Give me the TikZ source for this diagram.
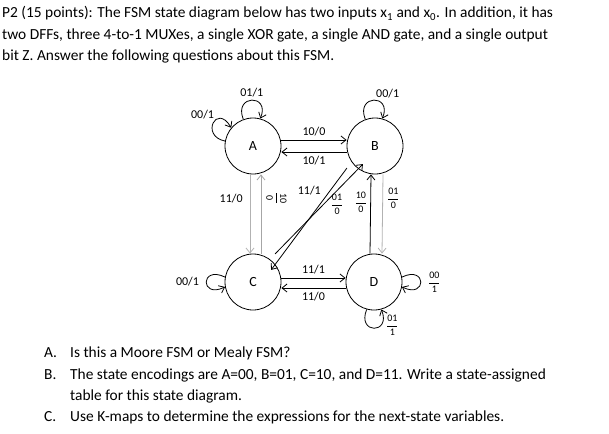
\documentclass[tikz,border=0pt]{standalone}
\usepackage{fontspec}
\setmainfont{Carlito}
\usetikzlibrary{arrows.meta}
\newcommand{\fq}[2]{$\displaystyle\frac{\mathrm{#1}}{\mathrm{#2}}$}
\begin{document}
\begin{tikzpicture}[x=1pt,y=-1pt,
  st/.style={circle,draw,thick,minimum size=56pt,inner sep=0pt,font=\fontsize{14}{14}\selectfont},
  tr/.style={draw,thick,-{Straight Barb[length=5pt,width=8pt]}},
  trg/.style={tr,draw=gray!60},
  lb/.style={font=\fontsize{12}{12}\selectfont,inner sep=1pt},
  fr/.style={font=\fontsize{10}{10}\selectfont,inner sep=1pt},
  txt/.style={anchor=base west,inner sep=0pt,font=\fontsize{15.4}{17}\selectfont}]
\useasboundingbox (0,0) rectangle (609,433);
\node[txt] (t1) at (2,18) {P2 (15 points): The FSM state diagram below has two inputs x\textsubscript{1} and x\textsubscript{0}. In addition, it has};
\node[txt] (t2) at (2,40) {two DFFs, three 4-to-1 MUXes, a single XOR gate, a single AND gate, and a single output};
\node[txt] (t3) at (2,61) {bit Z. Answer the following questions about this FSM.};
\node[txt] (la) at (44,357) {A.};
\node[txt] (ta) at (70,357) {Is this a Moore FSM or Mealy FSM?};
\node[txt] (lb2) at (44,379) {B.};
\node[txt] (tb) at (70,379) {The state encodings are A=00, B=01, C=10, and D=11. Write a state-assigned};
\node[txt] (tb2) at (70,400) {table for this state diagram.};
\node[txt] (lc) at (44,421) {C.};
\node[txt] (tc) at (70,421) {Use K-maps to determine the expressions for the next-state variables.};

\node[st] (A) at (253,146) {A};
\node[st] (B) at (375,146) {B};
\node[st] (C) at (253,282) {C};
\node[st] (D) at (374,282) {D};

% horizontal
\draw[tr] ([yshift=6pt]A.east) -- ([yshift=6pt]B.west) node[lb,midway,above=3pt]{10/0};
\draw[tr] ([yshift=-6pt]B.west) -- ([yshift=-6pt]A.east) node[lb,midway,below=3pt]{10/1};
\draw[tr] ([yshift=4pt]C.east) -- ([yshift=4pt]D.west) node[lb,midway,above=3pt]{11/1};
\draw[tr] ([yshift=-6pt]D.west) -- ([yshift=-6pt]C.east) node[lb,midway,below=3pt]{11/0};
% vertical A-C
\draw[trg] ([xshift=-3pt]A.south) -- ([xshift=-3pt]C.north) node[lb,pos=0.3,left=6pt]{11/0};
\draw[tr,draw=gray!70] ([xshift=8pt]C.north) -- ([xshift=8pt]A.south) node[fr,pos=0.7,right=4pt]{\rotatebox{-90}{\fq{10}{0}}};
% vertical B-D
\draw[tr] ([xshift=-4pt]D.north) -- ([xshift=-4pt]B.south) node[fr,pos=0.65,left=2pt]{\fq{10}{0}};
\draw[trg] ([xshift=8pt]B.south) -- ([xshift=8pt]D.north) node[fr,pos=0.3,right=3pt]{\fq{01}{0}};
% diagonal
\draw[tr] ([shift={(-8pt,-2pt)}]B.south west) -- ([shift={(-2pt,-8pt)}]C.north east) node[lb,pos=0.3,above left=2pt]{11/1};
\draw[tr] ([shift={(2pt,8pt)}]C.north east) -- ([shift={(8pt,2pt)}]B.south west) node[fr,pos=0.55,right=6pt]{\fq{01}{0}};
% loops
\draw[tr] (A.110) .. controls +(-10,-25) and +(10,-25) .. (A.75) node[lb,pos=0.5,above=2pt]{01/1};
\draw[tr] (A.170) .. controls +(-25,-5) and +(-15,-25) .. (A.140) node[lb,pos=0.6,above left=0pt]{00/1};
\draw[tr] (B.110) .. controls +(-10,-25) and +(10,-25) .. (B.75) node[lb,pos=0.5,above right=1pt]{00/1};
\draw[tr] (C.170) .. controls +(-25,-12) and +(-25,12) .. (C.190) node[lb,pos=0.5,left=6pt]{00/1};
\draw[tr] (D.10) .. controls +(25,-12) and +(25,12) .. (D.-10) node[fr,pos=0.5,right=6pt]{\fq{00}{1}};
\draw[tr] (D.-105) .. controls +(-10,25) and +(10,25) .. (D.-75) node[fr,pos=0.7,right=4pt]{\fq{01}{1}};
\end{tikzpicture}
\end{document}
